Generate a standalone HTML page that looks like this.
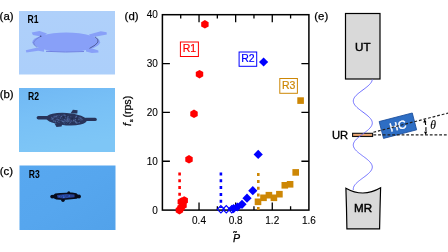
<!DOCTYPE html>
<html><head><meta charset="utf-8"><style>
html,body{margin:0;padding:0;background:#fff;}
svg{display:block;}
</style></head><body>
<svg width="448" height="252" viewBox="0 0 448 252">
<rect width="448" height="252" fill="#fff"/>

<defs>
 <linearGradient id="ga" x1="0" y1="0" x2="0" y2="1"><stop offset="0" stop-color="#afd0fa"/><stop offset="1" stop-color="#accffa"/></linearGradient>
 <linearGradient id="gb" x1="0" y1="0" x2="0.3" y2="1"><stop offset="0" stop-color="#70b8f4"/><stop offset="0.45" stop-color="#78c0f6"/><stop offset="1" stop-color="#7ec6f6"/></linearGradient>
 <linearGradient id="gc" x1="0" y1="0" x2="1" y2="1"><stop offset="0" stop-color="#58a8f0"/><stop offset="0.5" stop-color="#56a6ee"/><stop offset="1" stop-color="#52a2ea"/></linearGradient>
</defs>
<rect x="19" y="11" width="96" height="63.5" fill="url(#ga)"/>
<rect x="19" y="88" width="96" height="64" fill="url(#gb)"/>
<rect x="19.5" y="165.5" width="96" height="64.5" fill="url(#gc)"/>
<!-- robot a -->
<g fill="#88a0f8">
 <ellipse cx="66.2" cy="42.2" rx="33.9" ry="9.6"/>
 <polygon points="31.7,32.4 39.5,30.9 47,33.6 42,37.2 40.7,36.6 32.9,34.9"/>
 <polygon points="89,34.6 100.8,31.3 106.6,32.2 106.8,34.4 94.9,36.8 91,37"/>
 <polygon points="25.8,50.2 36.5,47.8 44,48 44,51.8 38.3,50.8 26.4,52.4"/>
 <polygon points="86,48 90.1,47.8 98.3,50.6 98.5,52.5 91.9,52.9 86,51.5"/>
</g>
<path d="M95,36.9 Q103.5,41.5 89.5,48.4" fill="none" stroke="#303868" stroke-width="0.75" opacity="0.85"/>
<path d="M40.6,36.4 Q28.5,42.5 37.3,47.6" fill="none" stroke="#404a90" stroke-width="0.6" opacity="0.55"/>
<path d="M46,51.3 Q66,52.6 84,51.5" fill="none" stroke="#5e68d8" stroke-width="1" opacity="0.75"/>
<circle cx="40.7" cy="36.3" r="0.8" fill="#303868" opacity="0.8"/>
<!-- robot b -->
<g fill="#28345a">
 <ellipse cx="66.5" cy="119.2" rx="20.3" ry="6.2" transform="rotate(4 66.5 119.2)"/>
 <rect x="36.6" y="115.9" width="13" height="3.6" rx="1.8"/>
 <rect x="84" y="117.7" width="12.8" height="3.4" rx="1.7"/>
 <polygon points="70.5,113.4 72.9,109.8 77.6,110.2 77.3,113.6"/>
 <polygon points="54.5,123.5 62.5,123.5 61.5,126.6 56.5,127"/>
</g>
<circle cx="59.89" cy="115.44" r="0.43" fill="#44588c"/><circle cx="67.99" cy="118.16" r="0.76" fill="#44588c"/><circle cx="63.50" cy="116.59" r="0.57" fill="#222c4c"/><circle cx="55.64" cy="119.92" r="0.63" fill="#44588c"/><circle cx="58.56" cy="115.28" r="0.63" fill="#44588c"/><circle cx="68.72" cy="121.38" r="0.63" fill="#44588c"/><circle cx="71.99" cy="118.50" r="0.68" fill="#222c4c"/><circle cx="68.92" cy="120.76" r="0.67" fill="#56709e"/><circle cx="63.81" cy="117.35" r="0.77" fill="#222c4c"/><circle cx="61.29" cy="116.51" r="0.68" fill="#4e64a0"/><circle cx="56.49" cy="119.45" r="0.60" fill="#222c4c"/><circle cx="60.45" cy="118.46" r="0.79" fill="#222c4c"/><circle cx="51.70" cy="117.54" r="0.46" fill="#3a4c7c"/><circle cx="72.86" cy="122.50" r="0.72" fill="#222c4c"/><circle cx="79.00" cy="118.67" r="0.64" fill="#3a4c7c"/><circle cx="69.64" cy="119.18" r="0.78" fill="#44588c"/><circle cx="65.38" cy="120.97" r="0.69" fill="#44588c"/><circle cx="59.04" cy="119.66" r="0.51" fill="#56709e"/><circle cx="61.94" cy="120.77" r="0.78" fill="#44588c"/><circle cx="60.80" cy="120.11" r="0.42" fill="#56709e"/><circle cx="56.76" cy="117.63" r="0.43" fill="#56709e"/><circle cx="64.49" cy="119.75" r="0.73" fill="#4e64a0"/><circle cx="80.82" cy="118.18" r="0.79" fill="#56709e"/><circle cx="73.69" cy="118.70" r="0.46" fill="#4e64a0"/><circle cx="54.09" cy="115.85" r="0.40" fill="#4e64a0"/><circle cx="58.26" cy="115.27" r="0.55" fill="#222c4c"/><circle cx="73.90" cy="120.07" r="0.66" fill="#222c4c"/><circle cx="75.86" cy="119.62" r="0.56" fill="#222c4c"/><circle cx="62.85" cy="115.17" r="0.42" fill="#56709e"/><circle cx="53.47" cy="116.89" r="0.44" fill="#44588c"/><circle cx="69.07" cy="119.95" r="0.65" fill="#3a4c7c"/><circle cx="61.59" cy="120.40" r="0.64" fill="#3a4c7c"/><circle cx="65.76" cy="115.49" r="0.80" fill="#56709e"/><circle cx="65.19" cy="119.15" r="0.46" fill="#44588c"/><circle cx="76.05" cy="122.48" r="0.73" fill="#56709e"/><circle cx="52.72" cy="118.87" r="0.70" fill="#44588c"/><circle cx="58.54" cy="120.28" r="0.68" fill="#44588c"/><circle cx="57.30" cy="117.42" r="0.54" fill="#4e64a0"/><circle cx="55.69" cy="119.06" r="0.53" fill="#222c4c"/><circle cx="55.51" cy="121.75" r="0.72" fill="#4e64a0"/><circle cx="78.72" cy="122.66" r="0.48" fill="#4e64a0"/><circle cx="66.06" cy="121.68" r="0.72" fill="#44588c"/><circle cx="65.63" cy="116.27" r="0.78" fill="#222c4c"/><circle cx="64.14" cy="123.62" r="0.78" fill="#3a4c7c"/><circle cx="61.43" cy="116.24" r="0.59" fill="#4e64a0"/><circle cx="60.20" cy="118.79" r="0.74" fill="#222c4c"/><circle cx="65.59" cy="120.87" r="0.73" fill="#44588c"/><circle cx="51.79" cy="117.25" r="0.59" fill="#4e64a0"/><circle cx="53.79" cy="121.41" r="0.43" fill="#3a4c7c"/><circle cx="64.90" cy="121.73" r="0.69" fill="#44588c"/><circle cx="72.72" cy="118.34" r="0.62" fill="#222c4c"/><circle cx="76.46" cy="116.48" r="0.73" fill="#4e64a0"/><circle cx="55.43" cy="116.14" r="0.60" fill="#3a4c7c"/><circle cx="76.88" cy="118.38" r="0.57" fill="#222c4c"/><circle cx="60.84" cy="118.58" r="0.73" fill="#222c4c"/><circle cx="66.92" cy="122.71" r="0.45" fill="#222c4c"/><circle cx="52.95" cy="118.56" r="0.71" fill="#56709e"/><circle cx="70.53" cy="122.45" r="0.47" fill="#4e64a0"/><circle cx="65.31" cy="121.57" r="0.42" fill="#222c4c"/><circle cx="73.57" cy="120.20" r="0.71" fill="#56709e"/><circle cx="51.13" cy="118.93" r="0.48" fill="#4e64a0"/><circle cx="70.84" cy="116.69" r="0.58" fill="#3a4c7c"/><circle cx="67.81" cy="119.27" r="0.68" fill="#4e64a0"/><circle cx="57.11" cy="119.34" r="0.74" fill="#4e64a0"/><circle cx="64.55" cy="114.98" r="0.57" fill="#4e64a0"/><circle cx="55.46" cy="116.65" r="0.76" fill="#44588c"/><circle cx="52.91" cy="120.62" r="0.46" fill="#3a4c7c"/><circle cx="62.55" cy="119.00" r="0.46" fill="#4e64a0"/><circle cx="63.82" cy="119.37" r="0.57" fill="#3a4c7c"/><circle cx="61.21" cy="114.94" r="0.41" fill="#3a4c7c"/><circle cx="68.64" cy="118.95" r="0.55" fill="#44588c"/><circle cx="67.32" cy="117.41" r="0.45" fill="#44588c"/><circle cx="53.93" cy="121.09" r="0.74" fill="#56709e"/><circle cx="62.82" cy="119.51" r="0.63" fill="#222c4c"/><circle cx="63.89" cy="114.93" r="0.65" fill="#44588c"/><circle cx="80.65" cy="119.93" r="0.80" fill="#3a4c7c"/><circle cx="63.01" cy="123.32" r="0.45" fill="#222c4c"/><circle cx="67.73" cy="116.86" r="0.79" fill="#44588c"/><circle cx="57.46" cy="115.57" r="0.65" fill="#3a4c7c"/><circle cx="67.91" cy="116.55" r="0.60" fill="#56709e"/><circle cx="54.08" cy="117.00" r="0.80" fill="#44588c"/><circle cx="67.23" cy="116.90" r="0.44" fill="#56709e"/><circle cx="78.95" cy="119.59" r="0.62" fill="#56709e"/><circle cx="59.22" cy="116.04" r="0.54" fill="#4e64a0"/><circle cx="79.28" cy="122.37" r="0.56" fill="#4e64a0"/><circle cx="76.04" cy="117.62" r="0.42" fill="#4e64a0"/><circle cx="73.01" cy="118.66" r="0.67" fill="#222c4c"/><circle cx="58.20" cy="116.24" r="0.42" fill="#3a4c7c"/><circle cx="54.42" cy="116.24" r="0.51" fill="#44588c"/><circle cx="68.51" cy="116.98" r="0.49" fill="#3a4c7c"/><circle cx="54.28" cy="116.89" r="0.59" fill="#44588c"/><circle cx="66.82" cy="116.42" r="0.71" fill="#222c4c"/><circle cx="52.58" cy="119.30" r="0.41" fill="#56709e"/><circle cx="59.07" cy="116.20" r="0.78" fill="#222c4c"/><circle cx="70.07" cy="122.30" r="0.46" fill="#56709e"/><circle cx="75.12" cy="121.44" r="0.73" fill="#44588c"/><circle cx="74.86" cy="120.11" r="0.69" fill="#56709e"/><circle cx="67.42" cy="119.51" r="0.73" fill="#44588c"/><circle cx="69.50" cy="123.55" r="0.43" fill="#4e64a0"/><circle cx="56.73" cy="116.35" r="0.72" fill="#56709e"/><circle cx="76.16" cy="120.11" r="0.44" fill="#222c4c"/><circle cx="67.34" cy="121.92" r="0.50" fill="#56709e"/><circle cx="75.63" cy="117.08" r="0.60" fill="#56709e"/><circle cx="61.95" cy="118.87" r="0.71" fill="#3a4c7c"/><circle cx="70.95" cy="121.14" r="0.64" fill="#44588c"/><circle cx="59.85" cy="120.45" r="0.65" fill="#3a4c7c"/><circle cx="52.25" cy="118.23" r="0.51" fill="#56709e"/><circle cx="73.06" cy="121.79" r="0.52" fill="#56709e"/><circle cx="67.17" cy="119.09" r="0.71" fill="#56709e"/><circle cx="65.59" cy="117.23" r="0.73" fill="#44588c"/><circle cx="57.70" cy="115.88" r="0.43" fill="#4e64a0"/><circle cx="57.33" cy="117.35" r="0.73" fill="#222c4c"/><circle cx="66.57" cy="123.28" r="0.49" fill="#3a4c7c"/><circle cx="81.98" cy="120.34" r="0.46" fill="#44588c"/><circle cx="62.66" cy="121.41" r="0.54" fill="#56709e"/><circle cx="59.11" cy="122.29" r="0.53" fill="#44588c"/><circle cx="60.28" cy="117.95" r="0.69" fill="#4e64a0"/><circle cx="61.60" cy="117.98" r="0.43" fill="#222c4c"/><circle cx="80.44" cy="118.18" r="0.73" fill="#44588c"/><circle cx="56.91" cy="116.38" r="0.53" fill="#222c4c"/><circle cx="76.93" cy="122.99" r="0.75" fill="#56709e"/><circle cx="78.55" cy="121.55" r="0.62" fill="#222c4c"/><circle cx="75.57" cy="119.54" r="0.66" fill="#4e64a0"/><circle cx="65.53" cy="117.76" r="0.50" fill="#3a4c7c"/><circle cx="75.68" cy="121.57" r="0.66" fill="#56709e"/><circle cx="58.71" cy="119.43" r="0.45" fill="#56709e"/><circle cx="66.31" cy="122.51" r="0.49" fill="#222c4c"/><circle cx="64.80" cy="115.67" r="0.50" fill="#4e64a0"/><circle cx="53.81" cy="119.07" r="0.50" fill="#3a4c7c"/><circle cx="57.05" cy="119.44" r="0.70" fill="#44588c"/><circle cx="63.17" cy="118.30" r="0.48" fill="#222c4c"/><circle cx="57.39" cy="121.29" r="0.51" fill="#56709e"/><circle cx="66.54" cy="120.70" r="0.44" fill="#4e64a0"/><circle cx="82.02" cy="119.33" r="0.57" fill="#56709e"/><circle cx="58.97" cy="122.02" r="0.45" fill="#44588c"/><circle cx="63.41" cy="121.83" r="0.79" fill="#56709e"/><circle cx="66.40" cy="115.11" r="0.74" fill="#222c4c"/><circle cx="67.24" cy="121.28" r="0.43" fill="#56709e"/><circle cx="51.89" cy="119.07" r="0.66" fill="#44588c"/><circle cx="59.13" cy="115.15" r="0.61" fill="#3a4c7c"/><circle cx="63.88" cy="121.86" r="0.43" fill="#44588c"/><circle cx="67.39" cy="120.29" r="0.50" fill="#56709e"/><circle cx="58.01" cy="116.97" r="0.59" fill="#4e64a0"/><circle cx="56.36" cy="116.16" r="0.68" fill="#56709e"/><circle cx="66.31" cy="121.14" r="0.43" fill="#56709e"/><circle cx="55.96" cy="117.90" r="0.49" fill="#3a4c7c"/><circle cx="63.28" cy="121.01" r="0.40" fill="#4e64a0"/><circle cx="58.17" cy="122.28" r="0.48" fill="#44588c"/><circle cx="79.14" cy="117.59" r="0.51" fill="#4e64a0"/><circle cx="71.23" cy="120.83" r="0.59" fill="#4e64a0"/>
<!-- robot c -->
<g fill="#070c1c">
 <polygon points="50.5,196.5 53,195.2 55.2,193.6 60,192.9 72,192.5 76.4,193.3 78.5,195.2 80.8,196.5 78.5,197.8 76.6,198.8 63,200.1 56.3,199.4 53,197.9"/>
 <circle cx="52.2" cy="196.6" r="1.9"/>
 <circle cx="79" cy="196.5" r="1.9"/>
 <circle cx="63" cy="200.3" r="1.7"/>
 <circle cx="68.8" cy="192.7" r="1.5"/>
</g>
<polygon points="57,195 66.5,194.1 74.5,194.5 74.6,197.2 63,198.5 57.5,197.8" fill="#28449a" opacity="0.95"/>
<circle cx="66.98" cy="197.32" r="0.42" fill="#3a60e0"/><circle cx="63.96" cy="197.42" r="0.61" fill="#3a80d0"/><circle cx="62.90" cy="195.62" r="0.61" fill="#2a4cc8"/><circle cx="63.66" cy="196.07" r="0.50" fill="#3a80d0"/><circle cx="59.21" cy="196.42" r="0.55" fill="#3a60e0"/><circle cx="69.36" cy="195.79" r="0.64" fill="#3a80d0"/><circle cx="65.09" cy="195.99" r="0.42" fill="#3a80d0"/><circle cx="63.52" cy="197.44" r="0.57" fill="#3a60e0"/><circle cx="61.74" cy="196.82" r="0.36" fill="#3a80d0"/><circle cx="63.06" cy="195.84" r="0.37" fill="#2a4cc8"/><circle cx="69.22" cy="196.60" r="0.45" fill="#3a80d0"/><circle cx="68.83" cy="196.37" r="0.68" fill="#2a4cc8"/>

<text transform="translate(27.5,22.5) scale(0.86,1)" font-size="10.0" font-weight="bold" font-family="Liberation Sans, Arial, sans-serif">R1</text><text transform="translate(28.0,100.1) scale(0.86,1)" font-size="10.0" font-weight="bold" font-family="Liberation Sans, Arial, sans-serif">R2</text><text transform="translate(28.8,177.8) scale(0.86,1)" font-size="10.0" font-weight="bold" font-family="Liberation Sans, Arial, sans-serif">R3</text>
<text x="-0.4" y="19.6" font-size="11.4" font-family="Liberation Sans, Arial, sans-serif" stroke="#000" stroke-width="0.25">(a)</text><text x="-0.3" y="97.6" font-size="11.4" font-family="Liberation Sans, Arial, sans-serif" stroke="#000" stroke-width="0.25">(b)</text><text x="-0.2" y="174.8" font-size="11.4" font-family="Liberation Sans, Arial, sans-serif" stroke="#000" stroke-width="0.25">(c)</text><text x="124.6" y="19.6" font-size="11.4" font-family="Liberation Sans, Arial, sans-serif" stroke="#000" stroke-width="0.25">(d)</text><text x="314.3" y="19.5" font-size="11.4" font-family="Liberation Sans, Arial, sans-serif" stroke="#000" stroke-width="0.25">(e)</text>
<rect x="162.4" y="14.7" width="146.50" height="195.40" fill="none" stroke="#000" stroke-width="1.5"/>
<path d="M199.03,210.1v-7.5M199.03,14.7v7.5M235.65,210.1v-7.5M235.65,14.7v7.5M272.27,210.1v-7.5M272.27,14.7v7.5M180.71,210.1v-3.8M180.71,14.7v3.8M217.34,210.1v-3.8M217.34,14.7v3.8M253.96,210.1v-3.8M253.96,14.7v3.8M290.59,210.1v-3.8M290.59,14.7v3.8M162.4,161.25h7.5M308.9,161.25h-7.5M162.4,112.40h7.5M308.9,112.40h-7.5M162.4,63.55h7.5M308.9,63.55h-7.5" stroke="#000" stroke-width="1.3" fill="none"/>
<text x="199.03" y="224" font-size="10" text-anchor="middle" font-family="Liberation Sans, Arial, sans-serif" stroke="#000" stroke-width="0.1">0.4</text>
<text x="235.65" y="224" font-size="10" text-anchor="middle" font-family="Liberation Sans, Arial, sans-serif" stroke="#000" stroke-width="0.1">0.8</text>
<text x="272.27" y="224" font-size="10" text-anchor="middle" font-family="Liberation Sans, Arial, sans-serif" stroke="#000" stroke-width="0.1">1.2</text>
<text x="308.90" y="224" font-size="10" text-anchor="middle" font-family="Liberation Sans, Arial, sans-serif" stroke="#000" stroke-width="0.1">1.6</text>
<text x="157.9" y="213.70" font-size="10" text-anchor="end" font-family="Liberation Sans, Arial, sans-serif" stroke="#000" stroke-width="0.1">0</text>
<text x="157.9" y="164.85" font-size="10" text-anchor="end" font-family="Liberation Sans, Arial, sans-serif" stroke="#000" stroke-width="0.1">10</text>
<text x="157.9" y="116.00" font-size="10" text-anchor="end" font-family="Liberation Sans, Arial, sans-serif" stroke="#000" stroke-width="0.1">20</text>
<text x="157.9" y="67.15" font-size="10" text-anchor="end" font-family="Liberation Sans, Arial, sans-serif" stroke="#000" stroke-width="0.1">30</text>
<text x="157.9" y="18.30" font-size="10" text-anchor="end" font-family="Liberation Sans, Arial, sans-serif" stroke="#000" stroke-width="0.1">40</text>
<text x="233.0" y="241.8" font-size="10.6" font-style="italic" font-family="Liberation Sans, Arial, sans-serif" stroke="#000" stroke-width="0.25">P</text>
<text x="233.6" y="237.9" font-size="9.5" font-family="Liberation Sans, Arial, sans-serif" stroke="#000" stroke-width="0.35">&#732;</text>
<text transform="translate(131.2,125.9) rotate(-90)" font-size="10.6" font-family="Liberation Sans, Arial, sans-serif" stroke="#000" stroke-width="0.25"><tspan font-style="italic">f</tspan><tspan font-size="6" dy="1.6" dx="0.6">s</tspan><tspan dy="-1.6" dx="-1.2"> (rps)</tspan></text>
<line x1="179.6" y1="172.4" x2="179.6" y2="208" stroke="#ff0000" stroke-width="2.6" stroke-dasharray="3 3.8"/>
<line x1="220.9" y1="172.5" x2="220.9" y2="208" stroke="#0000ff" stroke-width="2.6" stroke-dasharray="3 3.8"/>
<line x1="258.3" y1="173.1" x2="258.3" y2="210" stroke="#cd8705" stroke-width="2.6" stroke-dasharray="3 3.8"/>
<polygon points="204.90,20.00 201.18,22.15 201.18,26.45 204.90,28.60 208.62,26.45 208.62,22.15" fill="#ff0000" stroke="none" stroke-width="0"/>
<polygon points="199.50,69.90 195.78,72.05 195.78,76.35 199.50,78.50 203.22,76.35 203.22,72.05" fill="#ff0000" stroke="none" stroke-width="0"/>
<polygon points="194.00,109.50 190.28,111.65 190.28,115.95 194.00,118.10 197.72,115.95 197.72,111.65" fill="#ff0000" stroke="none" stroke-width="0"/>
<polygon points="189.00,155.00 185.28,157.15 185.28,161.45 189.00,163.60 192.72,161.45 192.72,157.15" fill="#ff0000" stroke="none" stroke-width="0"/>
<polygon points="184.20,196.20 180.48,198.35 180.48,202.65 184.20,204.80 187.92,202.65 187.92,198.35" fill="#ff0000" stroke="none" stroke-width="0"/>
<polygon points="181.30,197.50 177.58,199.65 177.58,203.95 181.30,206.10 185.02,203.95 185.02,199.65" fill="#ff0000" stroke="none" stroke-width="0"/>
<polygon points="183.00,201.00 179.28,203.15 179.28,207.45 183.00,209.60 186.72,207.45 186.72,203.15" fill="#ff0000" stroke="none" stroke-width="0"/>
<polygon points="181.00,203.50 177.28,205.65 177.28,209.95 181.00,212.10 184.72,209.95 184.72,205.65" fill="#ff0000" stroke="none" stroke-width="0"/>
<polygon points="179.40,205.90 175.68,208.05 175.68,212.35 179.40,214.50 183.12,212.35 183.12,208.05" fill="#ff0000" stroke="none" stroke-width="0"/>
<polygon points="220.90,205.70 224.50,209.30 220.90,212.90 217.30,209.30" fill="none" stroke="#0000ff" stroke-width="1.2"/>
<polygon points="226.30,205.70 229.90,209.30 226.30,212.90 222.70,209.30" fill="none" stroke="#0000ff" stroke-width="1.2"/>
<polygon points="231.80,205.70 235.40,209.30 231.80,212.90 228.20,209.30" fill="none" stroke="#0000ff" stroke-width="1.2"/>
<polygon points="263.60,57.40 268.20,62.00 263.60,66.60 259.00,62.00" fill="#0000ff" stroke="none" stroke-width="0"/>
<polygon points="258.20,149.80 262.80,154.40 258.20,159.00 253.60,154.40" fill="#0000ff" stroke="none" stroke-width="0"/>
<polygon points="252.80,186.10 257.40,190.70 252.80,195.30 248.20,190.70" fill="#0000ff" stroke="none" stroke-width="0"/>
<polygon points="247.00,193.60 251.60,198.20 247.00,202.80 242.40,198.20" fill="#0000ff" stroke="none" stroke-width="0"/>
<polygon points="242.00,199.70 246.60,204.30 242.00,208.90 237.40,204.30" fill="#0000ff" stroke="none" stroke-width="0"/>
<polygon points="237.40,202.40 242.00,207.00 237.40,211.60 232.80,207.00" fill="#0000ff" stroke="none" stroke-width="0"/>
<polygon points="233.60,204.00 238.20,208.60 233.60,213.20 229.00,208.60" fill="#0000ff" stroke="none" stroke-width="0"/>
<rect x="297.30" y="97.30" width="6.6" height="6.6" fill="#cd8705"/>
<rect x="292.40" y="169.10" width="6.6" height="6.6" fill="#cd8705"/>
<rect x="286.80" y="181.00" width="6.6" height="6.6" fill="#cd8705"/>
<rect x="281.50" y="182.00" width="6.6" height="6.6" fill="#cd8705"/>
<rect x="276.10" y="190.90" width="6.6" height="6.6" fill="#cd8705"/>
<rect x="270.60" y="194.50" width="6.6" height="6.6" fill="#cd8705"/>
<rect x="265.60" y="191.90" width="6.6" height="6.6" fill="#cd8705"/>
<rect x="260.20" y="194.50" width="6.6" height="6.6" fill="#cd8705"/>
<rect x="254.70" y="198.50" width="6.6" height="6.6" fill="#cd8705"/>
<rect x="180.4" y="42.0" width="18.0" height="14.5" fill="#fff" stroke="#ff0000" stroke-width="1"/><text x="189.40" y="52.20" font-size="10.5" text-anchor="middle" fill="#ff0000" font-family="Liberation Sans, Arial, sans-serif" stroke="#ff0000" stroke-width="0.2">R1</text>
<rect x="239.1" y="52.0" width="17.599999999999994" height="14.299999999999997" fill="#fff" stroke="#0000ff" stroke-width="1"/><text x="247.90" y="62.00" font-size="10.5" text-anchor="middle" fill="#0000ff" font-family="Liberation Sans, Arial, sans-serif" stroke="#0000ff" stroke-width="0.2">R2</text>
<rect x="279.8" y="78.5" width="17.599999999999966" height="14.799999999999997" fill="#fff" stroke="#cd8705" stroke-width="1"/><text x="288.60" y="89.00" font-size="10.5" text-anchor="middle" fill="#cd8705" font-family="Liberation Sans, Arial, sans-serif" stroke="#cd8705" stroke-width="0.2">R3</text>

<rect x="345.5" y="13.5" width="34.5" height="65.5" fill="#d9d9d9" stroke="#000" stroke-width="1.2"/>
<text x="362.8" y="51.3" font-size="11.6" text-anchor="middle" font-family="Liberation Sans, Arial, sans-serif" stroke="#000" stroke-width="0.45">UT</text>
<path d="M345.9,188.2 Q346.6,208 346.9,228.8 L379.6,228.8 Q380,208 380.6,187.8 Q363.2,198 345.9,188.2 Z" fill="#d9d9d9" stroke="#000" stroke-width="1.2"/>
<text x="363.1" y="212.2" font-size="11.6" text-anchor="middle" font-family="Liberation Sans, Arial, sans-serif" stroke="#000" stroke-width="0.45">MR</text>
<text x="332" y="138.8" font-size="11.2" font-family="Liberation Sans, Arial, sans-serif" stroke="#000" stroke-width="0.35">UR</text>
<defs><linearGradient id="rodg" x1="0" y1="0" x2="0" y2="1"><stop offset="0" stop-color="#f4b888"/><stop offset="1" stop-color="#d88c58"/></linearGradient></defs>
<rect x="352.6" y="133.3" width="20" height="3.2" fill="url(#rodg)" stroke="#111" stroke-width="1.1"/>
<polyline points="372.28,79.50 372.14,80.29 371.88,81.09 371.51,81.88 371.02,82.68 370.43,83.47 369.73,84.27 368.95,85.06 368.10,85.86 367.17,86.65 366.18,87.45 365.16,88.24 364.10,89.04 363.02,89.83 361.95,90.63 360.88,91.42 359.84,92.22 358.84,93.01 357.88,93.81 356.99,94.60 356.18,95.40 355.45,96.19 354.82,96.99 354.28,97.78 353.86,98.58 353.55,99.37 353.37,100.17 353.30,100.96 353.36,101.76 353.53,102.55 353.83,103.35 354.24,104.14 354.76,104.94 355.39,105.73 356.11,106.53 356.92,107.32 357.80,108.12 358.75,108.91 359.75,109.71 360.79,110.50 361.85,111.30 362.93,112.09 364.00,112.89 365.06,113.68 366.09,114.48 367.08,115.27 368.01,116.07 368.88,116.86 369.67,117.66 370.37,118.45 370.97,119.25 371.47,120.04 371.85,120.84 372.12,121.63 372.27,122.43 372.30,123.22 372.20,124.02 371.98,124.81 371.65,125.61 371.20,126.40 370.64,127.20 369.99,127.99 369.24,128.79 368.40,129.58 367.50,130.38 366.53,131.17 365.52,131.97 364.47,132.76 363.40,133.56 362.32,134.35 361.25,135.15 360.20,135.94 359.18,136.74 358.21,137.53 357.30,138.33 356.45,139.12 355.69,139.92 355.03,140.71 354.46,141.51 354.00,142.30 353.65,143.10 353.42,143.89 353.31,144.69 353.32,145.48 353.46,146.28 353.71,147.07 354.09,147.87 354.57,148.66 355.16,149.46 355.85,150.25 356.63,151.05 357.48,151.84 358.41,152.64 359.39,153.43 360.42,154.23 361.48,155.02 362.55,155.82 363.63,156.61 364.70,157.41 365.74,158.20 366.74,159.00 367.70,159.79 368.59,160.59 369.40,161.38 370.13,162.18 370.77,162.97 371.30,163.77 371.73,164.56 372.04,165.36 372.23,166.15 372.30,166.95 372.25,167.74 372.07,168.54 371.78,169.33 371.37,170.13 370.85,170.92 370.23,171.72 369.51,172.51 368.70,173.31 367.82,174.10 366.87,174.90 365.88,175.69 364.84,176.49 363.77,177.28 362.70,178.08 361.62,178.87 360.56,179.67 359.53,180.46 358.54,181.26 357.61,182.05 356.74,182.85 355.95,183.64 355.25,184.44 354.64,185.23 354.14,186.03 353.76,186.82 353.49,187.62 353.33,188.41 353.30,189.21 353.40,190.00" fill="none" stroke="#6e6eff" stroke-width="1"/>
<g transform="translate(397.9,125.7) rotate(-14.5)">
 <rect x="-17.1" y="-8.7" width="34.2" height="17.4" fill="#2e6ec4" stroke="#1c4e9c" stroke-width="0.8"/>
 <text x="0" y="4.2" font-size="11.6" text-anchor="middle" fill="#fff" font-family="Liberation Sans, Arial, sans-serif" stroke="#fff" stroke-width="0.35">HC</text>
</g>
<line x1="373.4" y1="134.9" x2="448" y2="134.9" stroke="#222" stroke-width="1.2" stroke-dasharray="2.8 1.9"/>
<line x1="373.4" y1="132.25" x2="448" y2="113.1" stroke="#222" stroke-width="1.2" stroke-dasharray="2.8 1.9"/>
<path d="M424.9,121 Q426.6,127.5 425.6,133.5" fill="none" stroke="#000" stroke-width="1.1" stroke-dasharray="4 2.2"/>
<path d="M423.2,122.6 L424.6,119.3 L426.5,122.3 Z M424.0,131.8 L425.7,135 L427.2,131.6 Z" fill="#000"/>
<text x="430.3" y="128.5" font-size="11.6" font-style="italic" font-family="Liberation Serif, serif" stroke="#000" stroke-width="0.15">θ</text>

</svg>
</body></html>
